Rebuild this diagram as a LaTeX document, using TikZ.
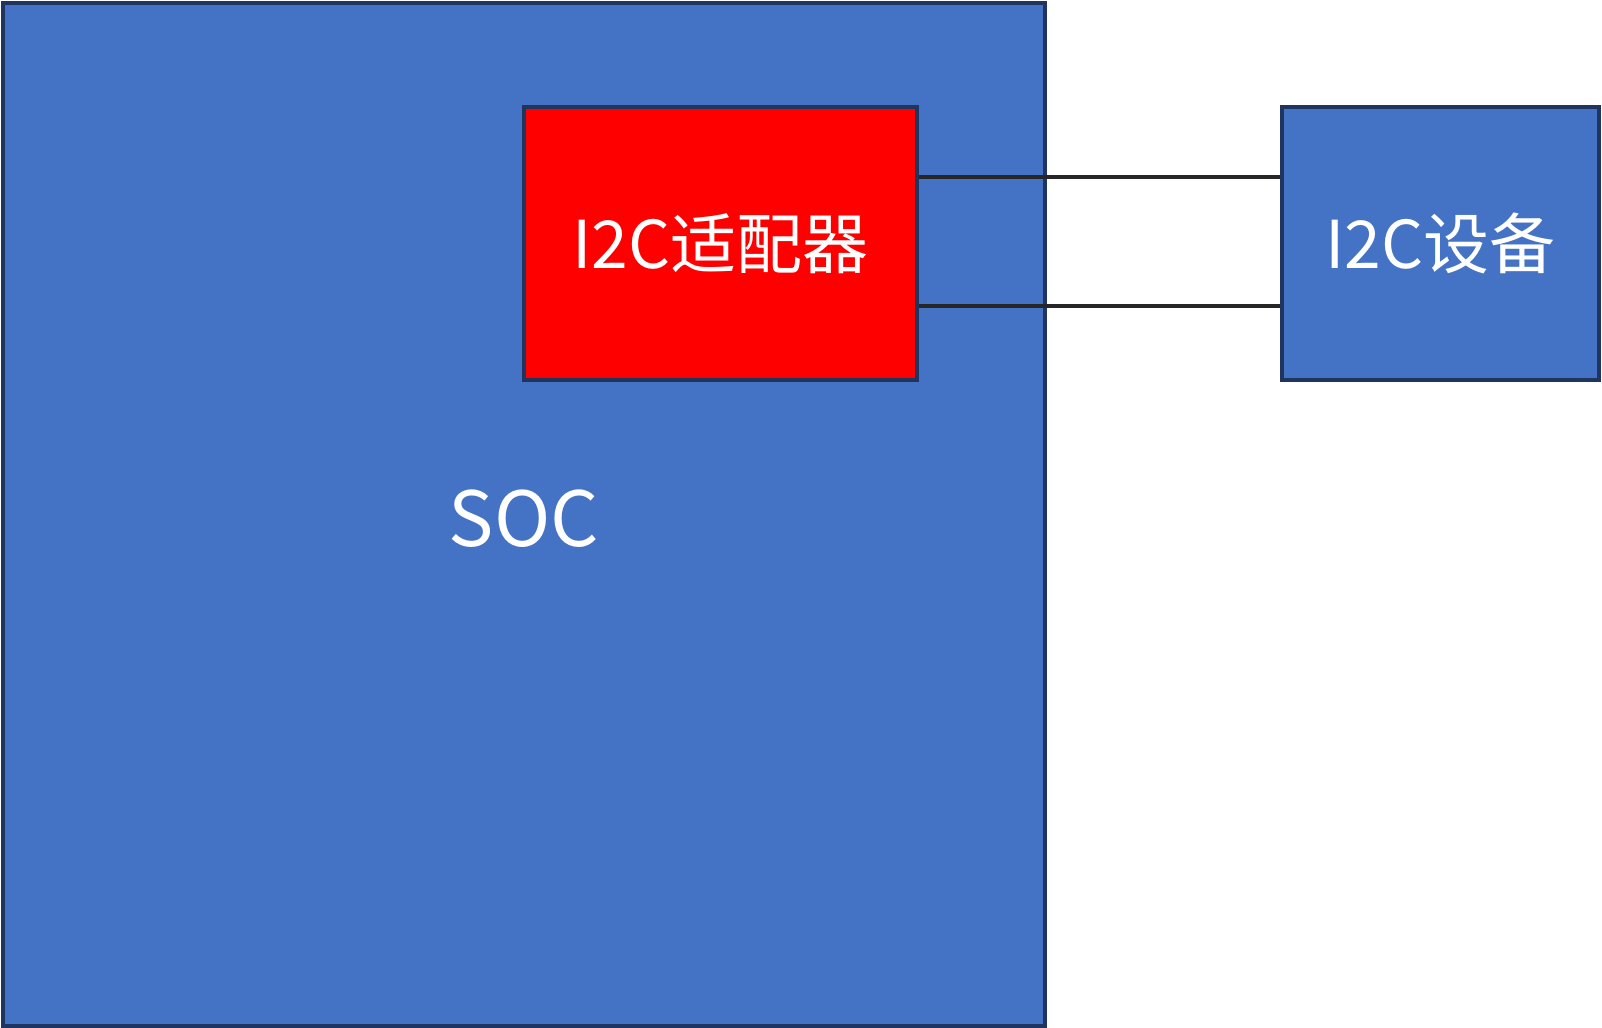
\documentclass[tikz,border=0pt]{standalone}
\usepackage{fontspec}
\setmainfont{Noto Sans CJK SC}
\definecolor{blu}{HTML}{4472C4}
\definecolor{bord}{HTML}{1F3560}
\definecolor{wire}{HTML}{262626}
\begin{document}
\begin{tikzpicture}[x=1pt,y=-1pt,
  box/.style={draw=bord,line width=3.5pt,inner sep=0pt},
  lbl/.style={text=white,font=\fontsize{66}{70}\selectfont}]
\useasboundingbox (0,0) rectangle (1602,1027);
\path[box,fill=blu] (3,3) rectangle (1045,1026);
\node[lbl,font=\fontsize{76}{80}\selectfont] (soc) at (524,519) {SOC};
\node[box,fill=red,minimum width=393pt,minimum height=273pt,lbl] (ad) at (720.5,243.5) {I2C适配器};
\node[box,fill=blu,minimum width=317pt,minimum height=273pt,lbl] (dev) at (1440.5,243.5) {I2C设备};
\draw[wire,line width=4.5pt] (ad.east |- 0,177) -- (dev.west |- 0,177);
\draw[wire,line width=4.5pt] (ad.east |- 0,306) -- (dev.west |- 0,306);
\end{tikzpicture}
\end{document}
